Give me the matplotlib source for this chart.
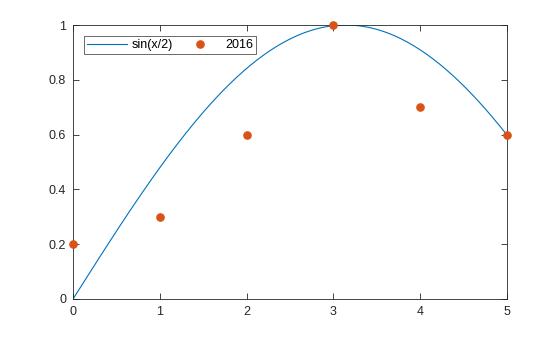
import numpy as np
import matplotlib
matplotlib.use('Agg')
from matplotlib import pyplot as plt

plt.rcParams['font.family'] = ['Liberation Sans', 'DejaVu Sans']

# Curve sin(x/2) on 0..5
x_line = np.linspace(0, 5, 200)
y_line = np.sin(x_line / 2)

# Scatter points "2016"
x_pts = [0, 1, 2, 3, 4, 5]
y_pts = [0.2, 0.3, 0.6, 1.0, 0.7, 0.6]

fig = plt.figure(figsize=(5.6, 3.37), dpi=100)
ax = fig.add_axes([0.1304, 0.1128, 0.775, 0.813])

ax.plot(x_line, y_line, color='#0072BD', lw=0.8, label='sin(x/2)')
ax.plot(x_pts, y_pts, 'o', color='#D95319', ms=5.2, label='2016', clip_on=False, zorder=5)

ax.set_xlim(0, 5)
ax.set_ylim(0, 1)
ax.set_xticks(range(6))
ax.set_yticks([0, 0.2, 0.4, 0.6, 0.8, 1])
ax.set_yticklabels(['0', '0.2', '0.4', '0.6', '0.8', '1'])
ax.tick_params(direction='in', top=True, right=True, length=4, width=0.6,
               labelsize=9, colors='#262626', pad=5)
for s in ax.spines.values():
    s.set_linewidth(0.6)
    s.set_color('#262626')

leg = ax.legend(loc='upper left', bbox_to_anchor=(0.025, 0.96), ncol=2, fontsize=9,
                frameon=True, fancybox=False, edgecolor='#262626', borderpad=0.25,
                handlelength=3.2, columnspacing=0.55, handletextpad=0.4, borderaxespad=0)
leg.get_frame().set_linewidth(0.6)

fig.savefig('out.png', dpi=100)
